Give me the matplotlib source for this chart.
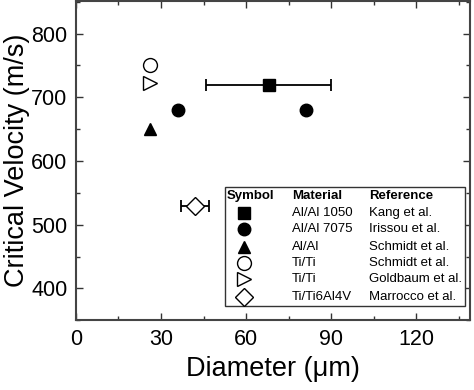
import matplotlib
matplotlib.use("Agg")
import matplotlib.pyplot as plt
import matplotlib.ticker as ticker
from matplotlib.patches import Rectangle

plt.rcParams['font.family'] = ['Liberation Sans', 'DejaVu Sans']

# data
materials = ["Al/Al 1050", "Al/Al 7075", "Al/Al", "Ti/Ti", "Ti/Ti", "Ti/Ti6Al4V"]
references = ["Kang et al.", "Irissou et al.", "Schmidt et al.", "Schmidt et al.",
              "Goldbaum et al.", "Marrocco et al."]
markers = ["s", "o", "^", "o", ">", "D"]
filled = [True, True, True, False, False, False]
msizes = [8, 9, 9, 10, 10, 9]
diam = [[68], [36, 81], [26], [26], [26], [42]]
vel = [[720], [680, 680], [650], [750], [722], [530]]
diam_err = [[22], None, None, None, None, [5]]

fig = plt.figure(figsize=(4.74, 3.90), dpi=100)
ax = fig.add_axes([0.160, 0.179, 0.832, 0.818])

for i in range(len(materials)):
    fc = "black" if filled[i] else "white"
    if diam_err[i] is not None:
        ax.errorbar(diam[i], vel[i], xerr=diam_err[i], fmt="none", ecolor="black",
                    elinewidth=1.3, capsize=4, capthick=1.3, zorder=2)
    ax.plot(diam[i], vel[i], linestyle="none", marker=markers[i], markersize=msizes[i],
            markerfacecolor=fc, markeredgecolor="black", markeredgewidth=1.0, zorder=3)

ax.set_xlim(0, 139)
ax.set_ylim(350, 851)
ax.xaxis.set_major_locator(ticker.MultipleLocator(30))
ax.xaxis.set_minor_locator(ticker.MultipleLocator(15))
ax.yaxis.set_major_locator(ticker.MultipleLocator(100))
ax.yaxis.set_minor_locator(ticker.MultipleLocator(50))
ax.tick_params(which="both", direction="in", top=True, right=True,
               labelsize=15.5, color="#333333", width=1.0)
ax.tick_params(which="major", length=5, pad=6)
ax.tick_params(which="minor", length=3)
for s in ax.spines.values():
    s.set_color("#444444")
    s.set_linewidth(1.5)

ax.set_xlabel("Diameter (μm)", fontsize=19.5, labelpad=5)
ax.set_ylabel("Critical Velocity (m/s)", fontsize=19.5, labelpad=1)

# legend table
def axc(px, py):
    return ((px - 76) / 394.0, (320 - py) / 319.0)

x0, y0 = axc(225, 306)
x1, y1 = axc(465, 187)
ax.add_patch(Rectangle((x0, y0), x1 - x0, y1 - y0, transform=ax.transAxes,
                       facecolor="white", edgecolor="#333333", linewidth=1.0, zorder=5))

fs = 9.5
hx, hy = axc(227, 196)
ax.text(hx, hy, "Symbol", transform=ax.transAxes, fontsize=fs, fontweight="bold",
        va="center", ha="left", zorder=6)
mx, _ = axc(292, 196)
ax.text(mx, hy, "Material", transform=ax.transAxes, fontsize=fs, fontweight="bold",
        va="center", ha="left", zorder=6)
rx, _ = axc(369, 196)
ax.text(rx, hy, "Reference", transform=ax.transAxes, fontsize=fs, fontweight="bold",
        va="center", ha="left", zorder=6)

row_y = [213, 229, 247, 263, 279, 297]
sx, _ = axc(244, 0)
for i in range(len(materials)):
    _, ry = axc(0, row_y[i])
    fc = "black" if filled[i] else "white"
    ax.plot([sx], [ry], transform=ax.transAxes, linestyle="none", marker=markers[i],
            markersize=msizes[i], markerfacecolor=fc, markeredgecolor="black",
            markeredgewidth=1.0, zorder=6, clip_on=False)
    ax.text(mx, ry, materials[i], transform=ax.transAxes, fontsize=fs,
            va="center", ha="left", zorder=6)
    ax.text(rx, ry, references[i], transform=ax.transAxes, fontsize=fs,
            va="center", ha="left", zorder=6)

fig.savefig("out.png", dpi=100)
